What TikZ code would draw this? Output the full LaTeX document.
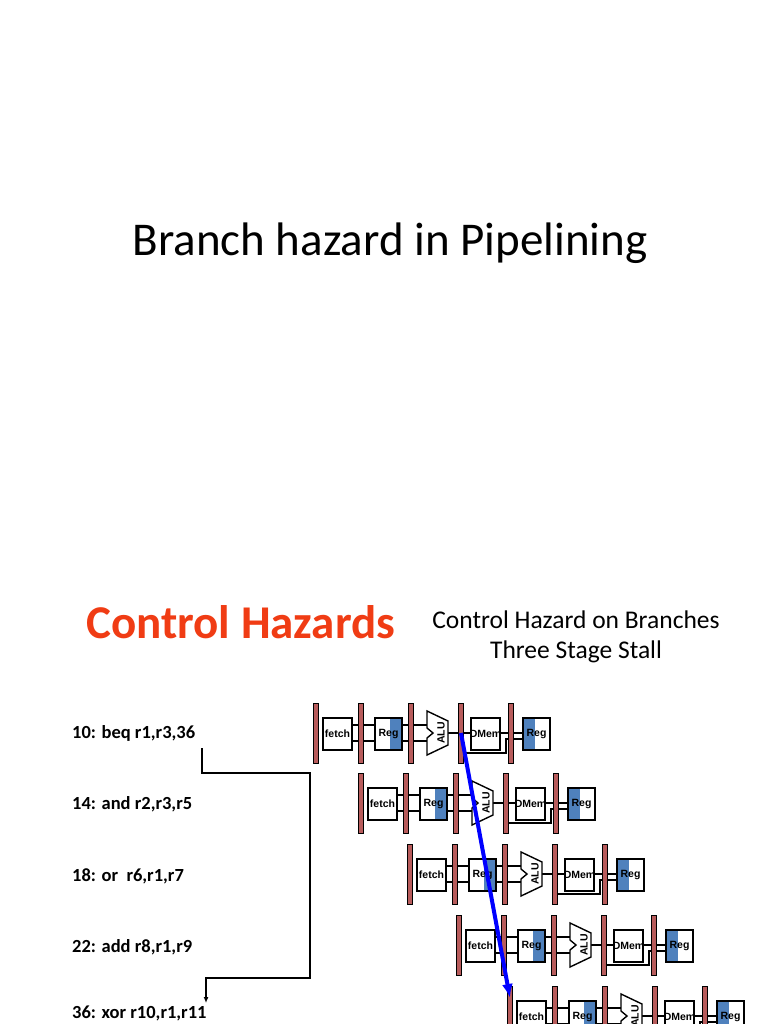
\documentclass[tikz,border=0pt]{standalone}
\usepackage{fontspec}
\usetikzlibrary{arrows.meta}
\setmainfont{Carlito}
\newfontfamily\arialf{Liberation Sans}
\definecolor{barred}{HTML}{B85C5C}
\definecolor{regblue}{HTML}{4F81BD}
\definecolor{hazred}{HTML}{F03C14}
\tikzset{
  pbar/.style={draw=black,line width=0.8pt,fill=barred},
  pbox/.style={draw=black,line width=1.4pt,fill=white},
  wire/.style={line width=1.4pt},
  boxtxt/.style={font=\arialf\bfseries\fontsize{10.5}{12}\selectfont,inner sep=0pt},
  instr/.style={font=\bfseries\fontsize{18.5}{22}\selectfont,anchor=west,inner sep=0pt}
}
\newcommand{\pipestage}[3]{%
\begin{scope}[shift={(#1,#2)}]
 \draw[wire] (36,-8) -- (59,-8) (36,8) -- (59,8);
 \draw[wire] (86,-8) -- (111,-8) (86,8) -- (111,8);
 \draw[wire] (132,0) -- (155,0);
 \draw[wire] (145,0) -- (145,20) -- (190,20) -- (190,6) -- (207,6);
 \draw[wire] (184,0) -- (207,0);
 \foreach \bx in {0,45,95,145,195}{\fill[pbar] (\bx-2.7,-30) rectangle (\bx+2.7,30);}
 \node[pbox,minimum width=29pt,minimum height=32pt,inner sep=0pt] (#3f) at (21.5,1) {};
 \node[boxtxt] at (21.5,1) {fetch};
 \draw[pbox] (59,-15) rectangle (86,17);
 \fill[regblue] (74,-14.4) rectangle (85.4,16.4);
 \draw[line width=1.4pt] (59,-15) rectangle (86,17);
 \node[boxtxt] (#3r) at (72.5,1) {Reg};
 \draw[pbox] (111,-22) -- (132,-12) -- (132,12) -- (111,22) -- (111,5) -- (117,0) -- (111,-5) -- cycle;
 \node[boxtxt,rotate=90] (#3a) at (125,0) {ALU};
 \draw[pbox] (155,-15) rectangle (184,17);
 \node[boxtxt] (#3d) at (169.5,1) {DMem};
 \draw[pbox] (207,-15) rectangle (234,17);
 \fill[regblue] (207.6,-14.4) rectangle (219,16.4);
 \draw[line width=1.4pt] (207,-15) rectangle (234,17);
 \node[boxtxt] (#3w) at (220.5,1) {Reg};
 \coordinate (#3b3) at (145,0);
 \coordinate (#3b0) at (0,-18);
\end{scope}}
\begin{document}
\begin{tikzpicture}[x=1pt,y=-1pt]
\useasboundingbox (0,0) rectangle (768,1024);
\node[font=\fontsize{47}{56}\selectfont] (title) at (390,243) {Branch hazard in Pipelining};
\node[font=\bfseries\fontsize{47}{54}\selectfont,text=hazred,anchor=west,inner sep=0pt] (ch) at (86,622) {Control Hazards};
\node[font=\fontsize{25.5}{30}\selectfont,align=center] (sub) at (576,637) {Control Hazard on Branches\\Three Stage Stall};
\node[instr] (i1) at (72,733) {10: beq r1,r3,36};
\node[instr] (i2) at (72,804) {14: and r2,r3,r5};
\node[instr] (i3) at (72,876) {18: or\ \ r6,r1,r7};
\node[instr] (i4) at (72,947) {22: add r8,r1,r9};
\node[instr] (i5) at (72,1013) {36: xor r10,r1,r11};
\pipestage{316}{733}{p1}
\pipestage{361}{803}{p2}
\pipestage{410}{874}{p3}
\pipestage{459}{945}{p4}
\pipestage{510}{1016}{p5}
\coordinate (c1) at (202,748);
\coordinate (c2) at (206,1003);
\draw[line width=1.4pt,-{Latex[length=6pt,width=5pt]}] (c1) |- (310,773) |- (206,978) -- (c2);
\draw[blue,line width=4pt,-{Latex[length=14pt,width=11pt]}] (p1b3) -- (p5b0);
\end{tikzpicture}
\end{document}
